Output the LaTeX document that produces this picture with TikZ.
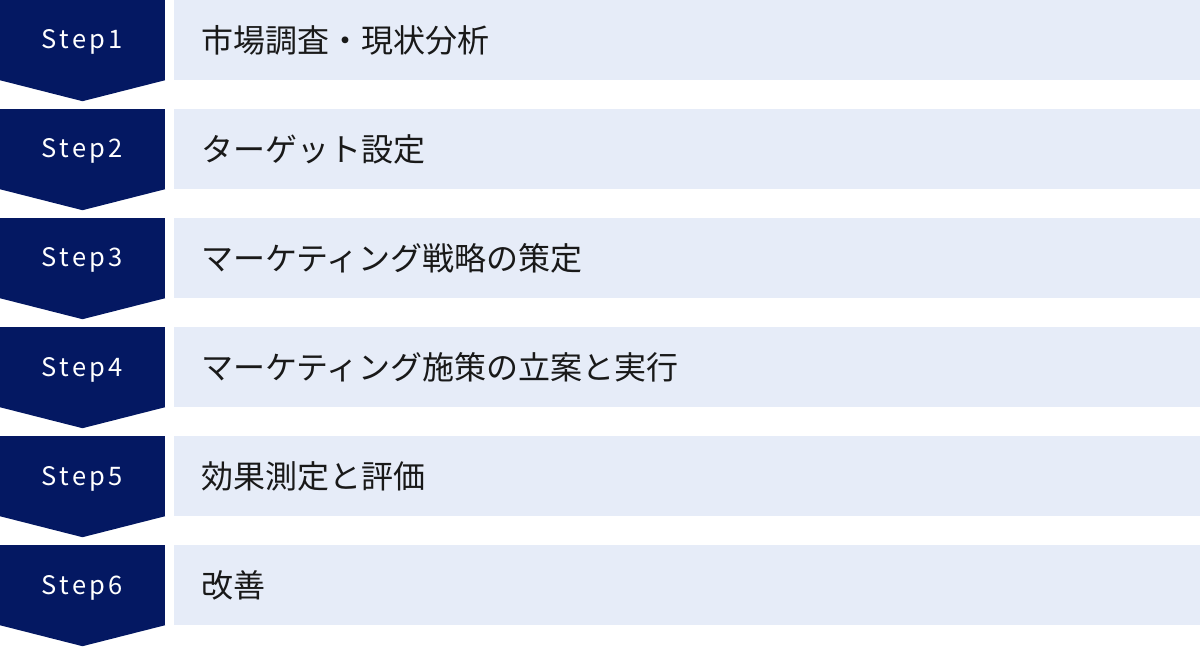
\documentclass[tikz,border=0pt]{standalone}
\usepackage{fontspec}
\newfontfamily\stepfont[LetterSpace=13]{Noto Sans CJK JP}
\newfontfamily\jpfont{Noto Sans CJK JP}
\usepackage{tikz}
\usetikzlibrary{calc}
\usepackage{xcolor}
\definecolor{stepnavy}{HTML}{041862}
\definecolor{rowblue}{HTML}{E6ECF8}

\begin{document}
\begin{tikzpicture}[x=1pt, y=1pt]
			\tikzstyle{stepbox}=[
			fill=stepnavy,
			rectangle,
			inner sep=0pt,
			text=white,
			text height=19pt,
			text depth=1pt,
			font=\fontsize{25.5}{30}\stepfont,
			minimum width=165pt,
			minimum height=80pt]
			\tikzstyle{rowbox}=[
			fill=rowblue,
			rectangle,
			inner xsep=27pt,
			inner ysep=0pt,
			text width=972pt,
			align=left,
			minimum height=80pt,
			text=black!90,
			font=\fontsize{32}{36}\jpfont]
			\tikzstyle{tip}=[fill=stepnavy]
			\useasboundingbox (0,0) rectangle (1200,-647);
			\node[stepbox] (S1) at (82.5,-40) {Step1};
			\node[stepbox, below of=S1, node distance=109pt] (S2) {Step2};
			\node[stepbox, below of=S2, node distance=109pt] (S3) {Step3};
			\node[stepbox, below of=S3, node distance=109pt] (S4) {Step4};
			\node[stepbox, below of=S4, node distance=109pt] (S5) {Step5};
			\node[stepbox, below of=S5, node distance=109pt] (S6) {Step6};
			%
			\node[rowbox, right of=S1, node distance=604.5pt] (T1) {市場調査・現状分析};
			\node[rowbox, right of=S2, node distance=604.5pt] (T2) {ターゲット設定};
			\node[rowbox, right of=S3, node distance=604.5pt] (T3) {マーケティング戦略の策定};
			\node[rowbox, right of=S4, node distance=604.5pt] (T4) {マーケティング施策の立案と実行};
			\node[rowbox, right of=S5, node distance=604.5pt] (T5) {効果測定と評価};
			\node[rowbox, right of=S6, node distance=604.5pt] (T6) {改善};
			%
			\fill[tip] (S1.south west) -- (S1.south east) -- ($(S1.south)+(0,-21)$) -- cycle;
			\fill[tip] (S2.south west) -- (S2.south east) -- ($(S2.south)+(0,-21)$) -- cycle;
			\fill[tip] (S3.south west) -- (S3.south east) -- ($(S3.south)+(0,-21)$) -- cycle;
			\fill[tip] (S4.south west) -- (S4.south east) -- ($(S4.south)+(0,-21)$) -- cycle;
			\fill[tip] (S5.south west) -- (S5.south east) -- ($(S5.south)+(0,-21)$) -- cycle;
			\fill[tip] (S6.south west) -- (S6.south east) -- ($(S6.south)+(0,-21)$) -- cycle;
		\end{tikzpicture}
\end{document}
